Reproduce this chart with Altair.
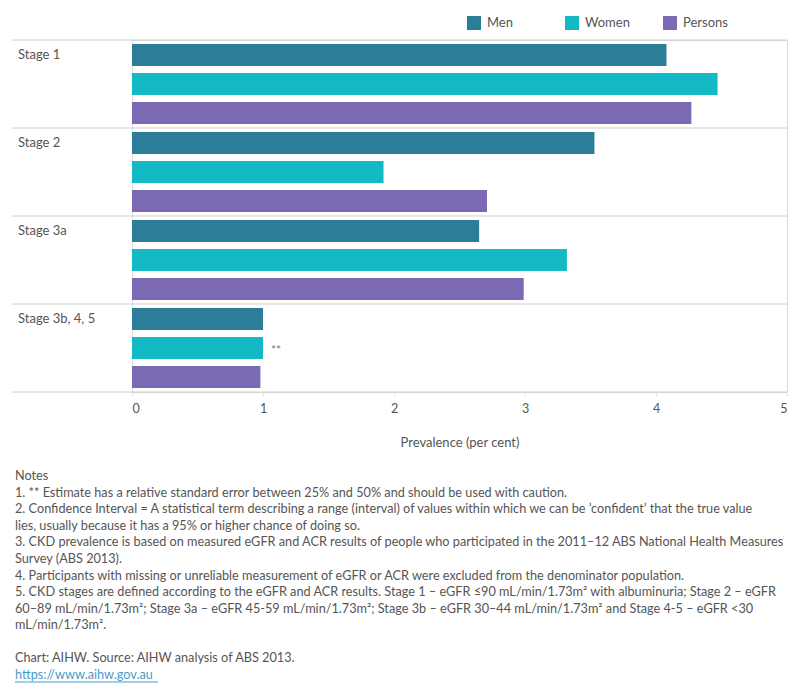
import altair as alt
import pandas as pd

# CKD prevalence by stage and sex (per cent)
stages = ["Stage 1", "Stage 2", "Stage 3a", "Stage 3b, 4, 5"]
series = ["Men", "Women", "Persons"]
men = [4.08, 3.53, 2.65, 1.00]
women = [4.47, 1.92, 3.32, 1.00]
persons = [4.27, 2.71, 2.99, 0.98]
# reliability flags (relative standard error 25-50%)
women_flags = ["", "", "", "**"]

colors = ["#2C7E98", "#14B9C6", "#7B69B3"]

notes = [
    "Notes",
    "1. ** Estimate has a relative standard error between 25% and 50% and should be used with caution.",
    "2. Confidence Interval = A statistical term describing a range (interval) of values within which we can be \u2019confident\u2019 that the true value",
    "lies, usually because it has a 95% or higher chance of doing so.",
    "3. CKD prevalence is based on measured eGFR and ACR results of people who participated in the 2011\u201312 ABS National Health Measures",
    "Survey (ABS 2013).",
    "4. Participants with missing or unreliable measurement of eGFR or ACR were excluded from the denominator population.",
    "5. CKD stages are defined according to the eGFR and ACR results. Stage 1 \u2013 eGFR \u226490 mL/min/1.73m\u00b2 with albuminuria; Stage 2 \u2013 eGFR",
    "60\u201389 mL/min/1.73m\u00b2; Stage 3a \u2013 eGFR 45-59 mL/min/1.73m\u00b2; Stage 3b \u2013 eGFR 30\u201344 mL/min/1.73m\u00b2 and Stage 4-5 \u2013 eGFR <30",
    "mL/min/1.73m\u00b2.",
]
source = "Chart: AIHW. Source: AIHW analysis of ABS 2013."
link = "https://www.aihw.gov.au"

rows = []
for i, st in enumerate(stages):
    rows.append({"stage": st, "group": "Men", "value": men[i], "flag": ""})
    rows.append({"stage": st, "group": "Women", "value": women[i], "flag": women_flags[i]})
    rows.append({"stage": st, "group": "Persons", "value": persons[i], "flag": ""})
df = pd.DataFrame(rows)
stage_df = pd.DataFrame({"stage": stages})

W, H = 655, 352
FONT = "Lato"
TXT = "#555555"
LINE = "#cccccc"
LINK = "#4A9BC7"
NOTE_SIZE = 12.7
LEFT = -117  # text column start, relative to the plot's left edge

y_band = alt.Y("stage:N", sort=stages, axis=None,
               scale=alt.Scale(domain=stages, paddingInner=0, paddingOuter=0))
y_off = alt.YOffset("group:N", sort=series,
                    scale=alt.Scale(domain=series, paddingInner=0.24, paddingOuter=0.14))

bars = alt.Chart(df).mark_bar().encode(
    x=alt.X("value:Q",
            scale=alt.Scale(domain=[0, 5], nice=False),
            axis=alt.Axis(values=[0, 1, 2, 3, 4, 5], format="d", grid=False, domain=False,
                          tickColor="#e4e4e4", tickSize=4, labelFlush=True,
                          labelPadding=6, labelFontSize=12.5, labelColor=TXT,
                          labelFont=FONT, title="Prevalence (per cent)",
                          titleFont=FONT, titleFontSize=13, titleFontWeight="normal",
                          titleColor=TXT, titlePadding=22)),
    y=y_band,
    yOffset=y_off,
    color=alt.Color("group:N", sort=series,
                    scale=alt.Scale(domain=series, range=colors),
                    legend=alt.Legend(title=None, orient="none", direction="horizontal",
                                      legendX=335, legendY=-24, symbolType="square",
                                      symbolSize=196, symbolStrokeWidth=0,
                                      labelFont=FONT, labelFontSize=13,
                                      labelColor=TXT, labelOffset=6,
                                      columnPadding=33, gridAlign="all")),
)

flags = alt.Chart(df).mark_text(align="left", baseline="middle", dx=8, dy=2,
                                font=FONT, fontSize=12, color="#777777").encode(
    x="value:Q",
    y=y_band,
    yOffset=y_off,
    text="flag:N",
)

row_lines = alt.Chart(stage_df).mark_rule(color=LINE, strokeWidth=1).encode(
    y=alt.Y("stage:N", sort=stages, bandPosition=0, axis=None,
            scale=alt.Scale(domain=stages, paddingInner=0, paddingOuter=0)),
    x=alt.value(-120),
    x2=alt.value(W),
)

bottom_line = alt.Chart(stage_df.head(1)).mark_rule(color=LINE, strokeWidth=1).encode(
    y=alt.value(H), x=alt.value(-120), x2=alt.value(W),
)

stage_labels = alt.Chart(stage_df).mark_text(align="left", baseline="top", dx=0, dy=9,
                                             font=FONT, fontSize=13, color=TXT).encode(
    y=alt.Y("stage:N", sort=stages, bandPosition=0, axis=None,
            scale=alt.Scale(domain=stages, paddingInner=0, paddingOuter=0)),
    x=alt.value(-114),
    text="stage:N",
)

notes_text = alt.Chart(stage_df.head(1)).mark_text(
    align="left", baseline="middle", font=FONT, fontSize=NOTE_SIZE, color=TXT,
    lineHeight=16.6,
).encode(
    x=alt.value(LEFT),
    y=alt.value(476 - 40),
    text=alt.value(notes),
)

source_text = alt.Chart(stage_df.head(1)).mark_text(
    align="left", baseline="middle", font=FONT, fontSize=NOTE_SIZE, color=TXT,
).encode(
    x=alt.value(LEFT),
    y=alt.value(658 - 40),
    text=alt.value(source),
)

link_text = alt.Chart(stage_df.head(1)).mark_text(
    align="left", baseline="middle", font=FONT, fontSize=NOTE_SIZE, color=LINK,
    href=link,
).encode(
    x=alt.value(LEFT),
    y=alt.value(675 - 40),
    text=alt.value(link),
)

link_underline = alt.Chart(stage_df.head(1)).mark_rule(color=LINK, strokeWidth=1).encode(
    x=alt.value(LEFT), x2=alt.value(LEFT + 143), y=alt.value(682 - 40),
)

chart = alt.layer(
    row_lines, bottom_line, bars, flags, stage_labels,
    notes_text, source_text, link_text, link_underline
).properties(
    width=W, height=H,
    autosize=alt.AutoSizeParams(type="none"),
    padding={"left": 132, "top": 40, "right": 13, "bottom": 308},
).configure_view(
    stroke=LINE, strokeWidth=1
).configure(
    background="white", font=FONT
)

chart.save("out.html", embed_options={"renderer": "svg", "actions": False})
